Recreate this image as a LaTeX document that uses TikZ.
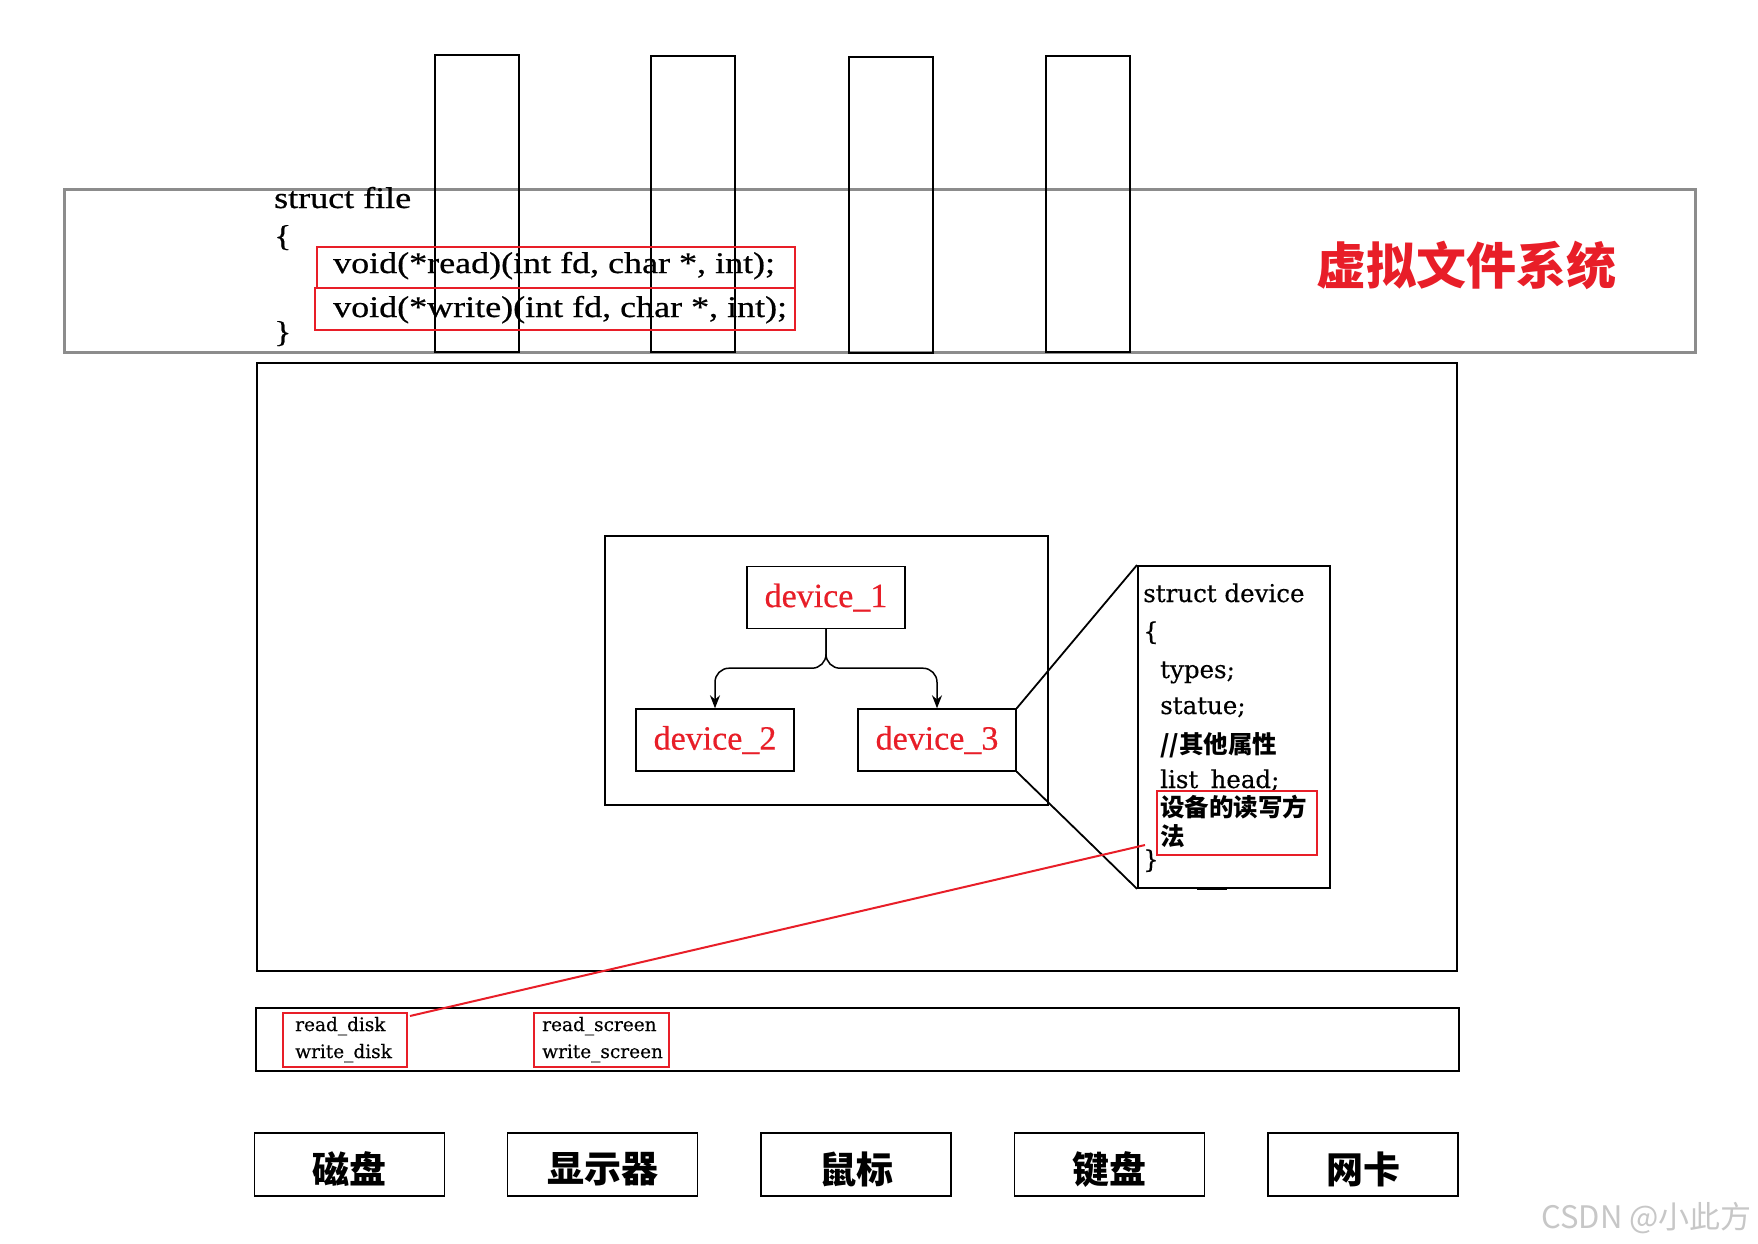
\documentclass[tikz,border=0pt]{standalone}
\usepackage{fontspec}
\usetikzlibrary{arrows.meta}
\setmainfont{Liberation Serif}
\newfontfamily\codefont[FakeStretch=1.2,FakeBold=0.6]{Liberation Serif}
\newfontfamily\devfont[FakeBold=0.5]{Liberation Serif}
\newfontfamily\bookfont[FakeBold=0.4]{DejaVu Serif}
\newfontfamily\cjk{Noto Sans CJK SC}
\definecolor{vred}{RGB}{232,30,40}
\definecolor{vgray}{RGB}{140,140,140}
\begin{document}
\begin{tikzpicture}[x=1pt,y=-1pt,
  blk/.style={draw=black, line width=1.8pt, inner sep=0pt, anchor=north west},
  thin/.style={draw=black, line width=1.4pt, inner sep=0pt},
  redbox/.style={draw=vred, line width=2pt, inner sep=0pt, anchor=north west},
  code/.style={anchor=base west, inner sep=0pt, font=\codefont\fontsize{30}{36}\selectfont},
  sdtext/.style={anchor=base west, inner sep=0pt, font=\bookfont\fontsize{24.5}{28}\selectfont},
  cjktext/.style={anchor=base west, inner sep=0pt, font=\cjk\bfseries\fontsize{24.5}{28}\selectfont},
  dev/.style={thin, minimum width=158pt, minimum height=62pt, text=vred, font=\devfont\fontsize{34}{38}\selectfont},
  hw/.style={thin, minimum width=190pt, minimum height=63pt},
  hwlab/.style={yshift=-5pt, inner sep=0pt, font=\cjk\bfseries\fontsize{37}{40}\selectfont},
  drv/.style={anchor=base west, inner sep=0pt, font=\bookfont\fontsize{18.5}{22}\selectfont},
  arr/.style={draw=black, line width=1.5pt, -{Stealth[length=13pt,width=10pt]}}
]
\useasboundingbox (0,0) rectangle (1758,1244);
\fill[white] (0,0) rectangle (1758,1244);

% virtual file system band
\node[draw=vgray, line width=2.5pt, anchor=north west, inner sep=0pt,
      minimum width=1631pt, minimum height=163pt] (vfs) at (63,188) {};
\node[inner sep=0pt, text=vred, font=\cjk\bfseries\fontsize{50}{54}\selectfont] (vfst) at (1466,265) {虚拟文件系统};

% struct file text
\node[code] (sf) at (274,208) {struct file};
\node[code] (sfo) at (274,246) {\{};
\node[code] (rdl) at (333,273) {void(*read)(int fd, char *, int);};
\node[code] (wrl) at (333,317) {void(*write)(int fd, char *, int);};
\node[code] (sfc) at (274,342) {\}};

% tall columns
\node[blk, minimum width=84pt, minimum height=297pt] (c1) at (434,54) {};
\node[blk, minimum width=84pt, minimum height=296pt] (c2) at (650,55) {};
\node[blk, minimum width=84pt, minimum height=296pt] (c3) at (848,56) {};
\node[blk, minimum width=84pt, minimum height=296pt] (c4) at (1045,55) {};

% red boxes around function pointers
\node[redbox, minimum width=478pt, minimum height=41pt] (rb1) at (316,246) {};
\node[redbox, minimum width=480pt, minimum height=42pt] (rb2) at (314,287) {};

% kernel box
\node[blk, line width=1.5pt, minimum width=1200pt, minimum height=608pt] (kern) at (256,362) {};
% inner device box
\node[blk, line width=1.5pt, minimum width=443pt, minimum height=269pt] (inner) at (604,535) {};

% devices
\node[dev] (d1) at (826,597.5) {device\_1};
\node[dev] (d2) at (715,740) {device\_2};
\node[dev] (d3) at (937,740) {device\_3};
\draw[arr, rounded corners=14pt] (d1.south) -- ++(0,39) -| (d2.north);
\draw[arr, rounded corners=14pt] (d1.south) -- ++(0,39) -| (d3.north);

% struct device box
\node[blk, minimum width=192pt, minimum height=322pt] (sd) at (1137,565) {};
\draw[black, line width=1.8pt] (d3.north east) -- (sd.north west);
\draw[black, line width=1.8pt] (d3.south east) -- (sd.south west);
\draw[black, line width=3pt] ([xshift=60pt]sd.south west) -- ([xshift=90pt]sd.south west);

\node[sdtext] (sd1) at (1143,602) {struct device};
\node[sdtext] (sd2) at (1143,640) {\{};
\node[sdtext] (sd3) at (1160,678) {types;};
\node[sdtext] (sd4) at (1160,714) {statue;};
\node[cjktext] (sd5) at (1160,753) {//其他属性};
\node[sdtext] (sd6) at (1160,788) {list\_head;};
\node[redbox, fill=white, minimum width=160pt, minimum height=64pt] (rwb) at (1156,790) {};
\node[cjktext] (sd7) at (1160,816) {设备的读写方};
\node[cjktext] (sd8) at (1160,845) {法};
\node[sdtext] (sd9) at (1143,868) {\}};

% driver band
\node[blk, line width=1.5pt, minimum width=1203pt, minimum height=63pt] (drvband) at (255,1007) {};
\node[redbox, minimum width=124pt, minimum height=54pt] (rd) at (282,1012) {};
\node[redbox, minimum width=135pt, minimum height=54pt] (rs) at (533,1012) {};
\node[drv] (t1) at (295,1031) {read\_disk};
\node[drv] (t2) at (295,1058) {write\_disk};
\node[drv] (t3) at (542,1031) {read\_screen};
\node[drv] (t4) at (542,1058) {write\_screen};

% red link
\coordinate (rl) at (1145,845);
\draw[vred, line width=2pt] (rl) -- ([yshift=-4pt, xshift=2pt]rd.north east);

% hardware
\node[hw] (h1) at (349.5,1164.5) {};
\node[hw] (h2) at (602.5,1164.5) {};
\node[hw] (h3) at (856,1164.5) {};
\node[hw] (h4) at (1109.5,1164.5) {};
\node[hw] (h5) at (1363,1164.5) {};
\node[hwlab] (l1) at (h1.center) {磁盘};
\node[hwlab] (l2) at (h2.center) {显示器};
\node[hwlab] (l3) at (h3.center) {鼠标};
\node[hwlab] (l4) at (h4.center) {键盘};
\node[hwlab] (l5) at (h5.center) {网卡};

% watermark
\node[anchor=base east, inner sep=0pt, text=black!22, font=\cjk\fontsize{31}{34}\selectfont] (wm) at (1752,1228) {CSDN @小此方};
\end{tikzpicture}
\end{document}
